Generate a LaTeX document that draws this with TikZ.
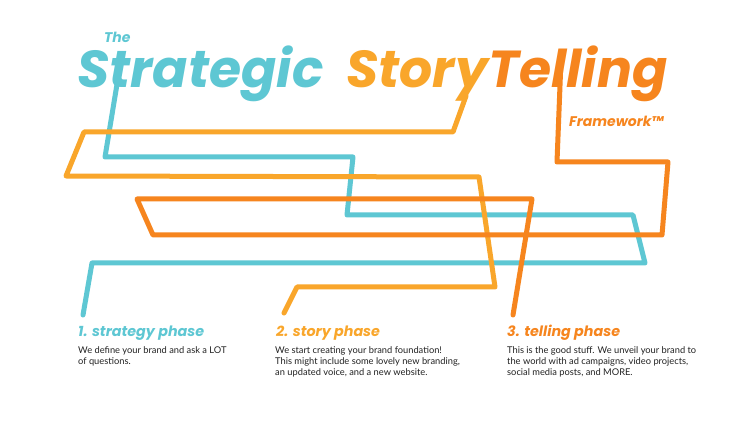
\documentclass[tikz,border=0pt]{standalone}
\usepackage{fontspec}
\setmainfont{Poppins}
\newfontfamily\bodyfont{Lato}
\usetikzlibrary{positioning}
\definecolor{stratteal}{HTML}{5EC7D3}
\definecolor{storyorange}{HTML}{F9A62B}
\definecolor{tellorange}{HTML}{F6851E}
\definecolor{bodygray}{HTML}{222222}

\begin{document}
\begin{tikzpicture}[x=1pt, y=-1pt,
    band/.style={line width=5pt, line join=round, line cap=round},
    ttl/.style={font=\fontsize{52}{52}\selectfont\bfseries\itshape, inner sep=0pt, anchor=base west},
    tiny/.style={font=\fontsize{14}{14}\selectfont\bfseries\itshape, inner sep=0pt, anchor=base west},
    phase/.style={font=\fontsize{14.3}{14.3}\selectfont\bfseries\itshape, inner sep=0pt, anchor=base west},
    body/.style={font=\bodyfont\fontsize{9.3}{11.2}\selectfont, text=bodygray, align=left, inner sep=0pt, anchor=north west},
  ]
  \useasboundingbox[fill=white] (0,0) rectangle (750,422);

  % title
  \node[tiny, text=stratteal] (the) at (104,43) {The};
  \node[ttl, text=stratteal] (strat) at (77,88) {Strategic};
  \node[ttl, text=storyorange] (story) at (346,88) {Story};
  \node[ttl, text=tellorange] (tell) at (story.base east) {Telling};
  \node[tiny, text=tellorange] (frame) at (569,127) {Framework™};

  % phases
  \node[phase, text=stratteal] (h1) at (78,336) {1. strategy phase};
  \node[phase, text=storyorange] (h2) at (276,336) {2. story phase};
  \node[phase, text=tellorange] (h3) at (507,336) {3. telling phase};
  \node[body] (b1) at (78,346.5) {We define your brand and ask a LOT\\of questions.};
  \node[body] (b2) at (275,346.5) {We start creating your brand foundation!\\This might include some lovely new branding,\\an updated voice, and a new website.};
  \node[body] (b3) at (507,346.5) {This is the good stuff. We unveil your brand to\\the world with ad campaigns, video projects,\\social media posts, and MORE.};

  % the three threads
  \coordinate (t1) at (121,60);
  \coordinate (t2) at (466,96);
  \coordinate (t3) at (561,60);
  \coordinate (e1) at (83,315);
  \coordinate (e2) at (284,313);
  \coordinate (e3) at (513,315);
  \draw[band, stratteal] (t1) -- (105,157) -- (353,157) -- (347,215) -- (633,215)
    -- (645,263) -- (92,263) -- (e1);
  \draw[band, storyorange] (t2) -- (453,132) -- (84,132) -- (66,176) -- (479,177)
    -- (495,287) -- (297,287) -- (e2);
  \draw[band, tellorange] (t3) -- (557,162) -- (668,162) -- (662,235) -- (153,235)
    -- (137,199) -- (532,199) -- (e3);
\end{tikzpicture}
\end{document}
